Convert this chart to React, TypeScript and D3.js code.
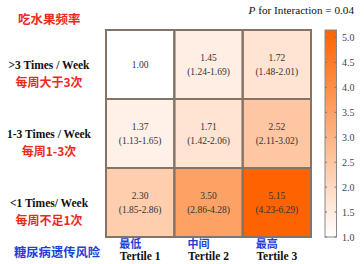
import React from "react";
import * as d3 from "d3";

const rowLabels = [">3 Times / Week", "1-3 Times / Week", "<1 Times/ Week"];
const rowLabelsCN = ["每周大于3次", "每周1-3次", "每周不足1次"];
const colLabels = ["Tertile 1", "Tertile 2", "Tertile 3"];
const colLabelsCN = ["最低", "中间", "最高"];
const row1Values = [1.0, 1.45, 1.72];
const row2Values = [1.37, 1.71, 2.52];
const row3Values = [2.3, 3.5, 5.15];
const row1CI = ["", "(1.24-1.69)", "(1.48-2.01)"];
const row2CI = ["(1.13-1.65)", "(1.42-2.06)", "(2.11-3.02)"];
const row3CI = ["(1.85-2.86)", "(2.86-4.28)", "(4.23-6.29)"];
const colorTicks = [1.0, 1.5, 2.0, 2.5, 3.0, 3.5, 4.0, 4.5, 5.0];

const W = 364;
const H = 264;
const serif = "'Liberation Serif', 'Times New Roman', serif";
const cjk = "'Noto Sans CJK SC', sans-serif";
const RED = "#ee2a1e";
const BLUE = "#1e3fd6";

export default function App() {
  const values = [row1Values, row2Values, row3Values];
  const cis = [row1CI, row2CI, row3CI];
  const x = d3.scaleBand<string>().domain(colLabels).range([106, 311]);
  const y = d3.scaleBand<string>().domain(rowLabels).range([30, 237]);
  const color = d3
    .scaleLinear<string>()
    .domain([1, 5.15])
    .range(["#ffffff", "#fd6300"])
    .interpolate(d3.interpolateRgb);
  const yc = d3.scaleLinear().domain([1, 5.15]).range([237, 30]);
  const cbX = 325;
  const cbW = 11.5;

  const cells: any[] = [];
  rowLabels.forEach((r, i) => {
    colLabels.forEach((c, j) => {
      cells.push({ r, c, v: values[i][j], ci: cis[i][j] });
    });
  });

  const stops = d3.range(0, 1.0001, 0.1);

  return (
    <svg
      width={W}
      height={H}
      style={{ position: "absolute", left: 0, top: 0, background: "#fff" }}
    >
      <defs>
        <linearGradient id="cb" x1="0" y1="1" x2="0" y2="0">
          {stops.map((t) => (
            <stop key={t} offset={t} stopColor={color(1 + t * 4.15)} />
          ))}
        </linearGradient>
      </defs>
      <rect width={W} height={H} fill="#fff" />

      <text x={18} y={24} fontFamily={cjk} fontWeight="bold" fontSize={12.5} fill={RED}>
        吃水果频率
      </text>
      <text x={354} y={14} fontFamily={serif} fontSize={11.2} textAnchor="end" fill="#111">
        <tspan fontStyle="italic">P</tspan> for Interaction = 0.04
      </text>

      {cells.map((d, k) => {
        const cx = (x(d.c) as number) + x.bandwidth() / 2;
        const cy = (y(d.r) as number) + y.bandwidth() / 2;
        return (
          <g key={k}>
            <rect
              x={x(d.c)}
              y={y(d.r)}
              width={x.bandwidth()}
              height={y.bandwidth()}
              fill={color(d.v)}
            />
            {d.ci ? (
              <>
                <text x={cx} y={cy - 3.5} textAnchor="middle" fontFamily={serif} fontSize={9.5} fill="#333">
                  {d.v.toFixed(2)}
                </text>
                <text x={cx} y={cy + 10.5} textAnchor="middle" fontFamily={serif} fontSize={9.5} fill="#333">
                  {d.ci}
                </text>
              </>
            ) : (
              <text x={cx} y={cy + 3.5} textAnchor="middle" fontFamily={serif} fontSize={9.5} fill="#333">
                {d.v.toFixed(2)}
              </text>
            )}
          </g>
        );
      })}
      {cells.map((d, k) => (
        <rect
          key={"b" + k}
          x={x(d.c)}
          y={y(d.r)}
          width={x.bandwidth()}
          height={y.bandwidth()}
          fill="none"
          stroke="#847468"
          strokeWidth={2}
        />
      ))}

      {rowLabels.map((r, i) => {
        const cy = (y(r) as number) + y.bandwidth() / 2;
        return (
          <g key={r}>
            <text x={49} y={cy + 4} textAnchor="middle" fontFamily={serif} fontWeight="bold" fontSize={11.5} fill="#111">
              {r}
            </text>
            <text x={49} y={cy + 22} textAnchor="middle" fontFamily={cjk} fontWeight="bold" fontSize={12} fill={RED}>
              {rowLabelsCN[i]}
            </text>
          </g>
        );
      })}

      {colLabels.map((c, j) => {
        const cx = (x(c) as number) + x.bandwidth() / 2;
        return (
          <g key={c}>
            <text x={cx - 21} y={247.5} fontFamily={cjk} fontWeight="bold" fontSize={11} fill={BLUE}>
              {colLabelsCN[j]}
            </text>
            <text x={cx} y={260} textAnchor="middle" fontFamily={serif} fontWeight="bold" fontSize={11.5} fill="#111">
              {c}
            </text>
          </g>
        );
      })}
      <text x={14} y={256.5} fontFamily={cjk} fontWeight="bold" fontSize={12.3} fill={BLUE}>
        糖尿病遗传风险
      </text>

      <rect x={cbX} y={yc(5.15)} width={cbW} height={yc(1) - yc(5.15)} fill="url(#cb)" stroke="#888" strokeWidth={1} />
      {colorTicks.map((t) => (
        <g key={t}>
          <line x1={cbX} x2={cbX + 2} y1={yc(t)} y2={yc(t)} stroke="#777" strokeWidth={1} />
          <line x1={cbX + cbW - 2} x2={cbX + cbW} y1={yc(t)} y2={yc(t)} stroke="#777" strokeWidth={1} />
          <text x={342} y={yc(t) + 3.5} fontFamily={serif} fontSize={10} fill="#444">
            {t.toFixed(1)}
          </text>
        </g>
      ))}
    </svg>
  );
}
